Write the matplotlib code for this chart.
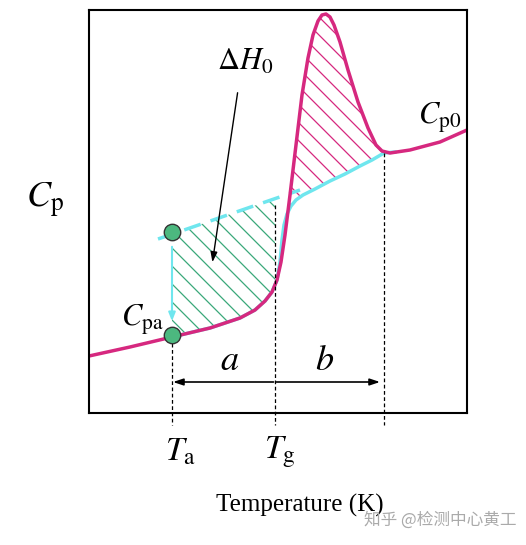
import numpy as np
import matplotlib.pyplot as plt

plt.rcParams['mathtext.fontset'] = 'stix'
plt.rcParams['font.family'] = ['Liberation Serif', 'DejaVu Serif']

# -----------------------
# Data (arbitrary units, y grows downward like the image)
# -----------------------
mag_x = [89, 130, 172, 210, 240, 255, 265, 272, 277, 281, 285, 290, 296, 302, 308, 313, 318, 322, 326, 330, 334, 340, 348, 358, 368, 376, 382, 390, 410, 440, 467]
mag_y = [356, 347, 337, 328, 318, 310, 301, 292, 280, 262, 235, 195, 145, 95, 58, 35, 21, 15, 14, 17, 25, 42, 70, 102, 128, 145, 151, 153, 150, 142, 130]
cyan_x = [172, 210, 240, 255, 265, 272, 277, 280, 282, 284, 287, 291, 296, 303, 315, 330, 345, 360, 372, 384, 395]
cyan_y = [337, 328, 318, 310, 301, 292, 280, 262, 240, 225, 214, 206, 200, 195, 189, 181, 174, 166, 160, 153, 152]
dash_x = [158, 300]
dash_y = [239, 190]
T_a, T_g, T_end = 172, 275, 384
circle_y = [232, 335]

fig = plt.figure(figsize=(5.26, 5.45), dpi=100)
ax = fig.add_axes([89/526, 132/545, 378/526, 403/545])
ax.set_xlim(89, 467)
ax.set_ylim(413, 10)
ax.set_xticks([])
ax.set_yticks([])
for s in ax.spines.values():
    s.set_linewidth(1.5)

green = '#3aa87a'
pink = '#d6287f'
cyan = '#6fe6ee'


def hatch_region(xs, y1, y2, color, step=18):
    poly = ax.fill_between(xs, y1, y2, facecolor='none', edgecolor='none')
    for c in np.arange(-500, 500, step):
        ln, = ax.plot([0, 500], [c, c + 500], color=color, lw=0.9)
        ln.set_clip_path(poly.get_paths()[0], poly.get_transform())


xs = np.linspace(T_a, T_g, 100)
hatch_region(xs, np.interp(xs, dash_x, dash_y), np.interp(xs, mag_x, mag_y), green)
xs2 = np.linspace(283, T_end, 200)
m2 = np.interp(xs2, mag_x, mag_y)
c2 = np.maximum(np.interp(xs2, cyan_x, cyan_y), m2)
hatch_region(xs2, m2, c2, pink)

ax.plot(dash_x, dash_y, color=cyan, lw=2.5, dashes=(5, 3))
ax.plot(cyan_x, cyan_y, color=cyan, lw=2.5)
ax.plot(mag_x, mag_y, color=pink, lw=2.5)

# vertical dashed guides
for x0, y0 in [(T_a, 337), (T_g, 205), (T_end, 153)]:
    ax.plot([x0, x0], [y0, 425], 'k--', lw=0.9, dashes=(3, 2), clip_on=False)

ax.annotate('', xy=(T_a, 324), xytext=(T_a, 244),
            arrowprops=dict(arrowstyle='-|>,head_length=0.5,head_width=0.2', color=cyan, lw=1.5))
ax.scatter([T_a, T_a], circle_y, s=140, color='#4cb87f', edgecolor='#333333', zorder=5)

for x1 in [T_a + 1, 380]:
    ax.annotate('', xy=(x1, 382), xytext=(T_g, 382),
                arrowprops=dict(arrowstyle='-|>,head_length=0.6,head_width=0.2', color='black', lw=1.2,
                                shrinkA=1, shrinkB=0))
ax.annotate('', xy=(212, 265), xytext=(238, 90),
            arrowprops=dict(arrowstyle='-|>,head_length=0.6,head_width=0.2', color='black', lw=1.0))

ax.text(230, 362, r'$a$', fontsize=26, ha='center', va='center')
ax.text(325, 362, r'$b$', fontsize=26, ha='center', va='center')
ax.text(245, 62, r'$\Delta H_0$', fontsize=22, ha='center', va='center')
ax.text(440, 118, r'$C_{\mathrm{p0}}$', fontsize=22, ha='center', va='center')
ax.text(142, 320, r'$C_{\mathrm{pa}}$', fontsize=22, ha='center', va='center')

fig.text(45/526, 1 - 200/545, r'$C_{\mathrm{p}}$', fontsize=26, ha='center', va='center')
fig.text(180/526, 1 - 452/545, r'$T_{\mathrm{a}}$', fontsize=24, ha='center', va='center')
fig.text(280/526, 1 - 452/545, r'$T_{\mathrm{g}}$', fontsize=24, ha='center', va='center')
fig.text(300/526, 1 - 505/545, 'Temperature (K)', fontsize=18, ha='center', va='center')
fig.text(440/526, 1 - 520/545, '知乎 @检测中心黄工', fontsize=12, color='#aaaaaa',
         ha='center', va='center', family=['Noto Sans CJK SC', 'DejaVu Sans'])

fig.savefig('out.png', dpi=100)
